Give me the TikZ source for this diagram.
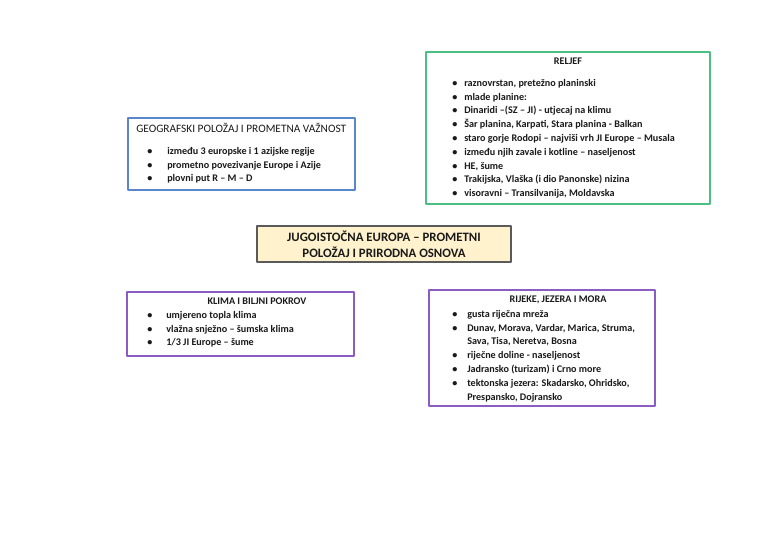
\documentclass[tikz,border=0pt]{standalone}
\usepackage{fontspec}
\setmainfont{Carlito}
\usepackage{xcolor}
\usetikzlibrary{positioning,calc}
\definecolor{reliefgreen}{HTML}{4CBF85}
\definecolor{geoblue}{HTML}{5A86CC}
\definecolor{climpurple}{HTML}{8B5CC4}
\definecolor{titlefill}{HTML}{FFF2CC}
\definecolor{titledraw}{HTML}{5A5A5A}
\definecolor{ink}{HTML}{1A1A1A}
\newcommand{\itm}[2][12]{\makebox[#1\pxu][l]{\textbullet}#2}
\newcommand{\cnt}[2][12]{\hspace*{#1\pxu}#2}
\newlength{\pxu}
\setlength{\pxu}{0.75pt}
\tikzset{
    every picture/.style={line cap=round,line join=round},
    mapbox/.style={draw,line width=0.9pt,fill=white,anchor=north west,
      inner sep=0pt,outer sep=0pt},
    boxtitle/.style={inner sep=0pt,anchor=base,text=ink,
      font=\fontsize{7.6}{10.3}\selectfont\bfseries},
    boxlist/.style={inner sep=0pt,anchor=north west,align=left,text=ink,
      font=\fontsize{7.6}{10.35}\selectfont\bfseries}
}
\begin{document}
\begin{tikzpicture}[x=0.75pt,y=-0.75pt]
  \useasboundingbox[fill=white] (0,0) rectangle (768,543);
  % relief
  \node[mapbox,draw=reliefgreen,minimum width=284*0.75pt,
        minimum height=152*0.75pt] (relief) at (426,52) {};
  \node[boxtitle] (reliefTitle) at (568,64) {RELJEF};
  \node[boxlist] (reliefList) at (452,79) {
    \itm{raznovrstan, pretežno planinski}\\
    \itm{mlade planine:}\\
    \itm{Dinaridi –(SZ – JI) - utjecaj na klimu}\\
    \itm{Šar planina, Karpati, Stara planina - Balkan}\\
    \itm{staro gorje Rodopi – najviši vrh JI Europe – Musala}\\
    \itm{između njih zavale i kotline – naseljenost}\\
    \itm{HE, šume}\\
    \itm{Trakijska, Vlaška (i dio Panonske) nizina}\\
    \itm{visoravni – Transilvanija, Moldavska}
  };
  % position
  \node[mapbox,draw=geoblue,minimum width=227*0.75pt,
        minimum height=72*0.75pt] (position) at (128,118) {};
  \node[boxtitle,anchor=base west,font=\fontsize{8.5}{10.3}\selectfont]
    (positionTitle) at (136,132) {GEOGRAFSKI POLOŽAJ I PROMETNA VAŽNOST};
  \node[boxlist] (positionList) at (147,147) {
    \itm[20]{između 3 europske i 1 azijske regije}\\
    \itm[20]{prometno povezivanje Europe i Azije}\\
    \itm[20]{plovni put R – M – D}
  };
  % main title
  \node[mapbox,draw=titledraw,fill=titlefill,line width=1pt,
        minimum width=254*0.75pt,minimum height=36*0.75pt] (main) at (257,226) {};
  \node[inner sep=0pt,align=center,text=ink,
        font=\fontsize{9.6}{12}\selectfont\bfseries] (mainTitle) at (main.center)
    {JUGOISTOČNA EUROPA – PROMETNI\\POLOŽAJ I PRIRODNA OSNOVA};
  % climate
  \node[mapbox,draw=climpurple,minimum width=227*0.75pt,
        minimum height=64*0.75pt] (climate) at (127,292) {};
  \node[boxtitle] (climateTitle) at (257,304) {KLIMA I BILJNI POKROV};
  \node[boxlist] (climateList) at (147,311) {
    \itm[19]{umjereno topla klima}\\
    \itm[19]{vlažna snježno – šumska klima}\\
    \itm[19]{1/3 JI Europe – šume}
  };
  % waters
  \node[mapbox,draw=climpurple,minimum width=226*0.75pt,
        minimum height=116*0.75pt] (waters) at (429,290) {};
  \node[boxtitle] (watersTitle) at (558,302) {RIJEKE, JEZERA I MORA};
  \node[boxlist] (watersList) at (452,310) {
    \itm[15]{gusta riječna mreža}\\
    \itm[15]{Dunav, Morava, Vardar, Marica, Struma,}\\
    \cnt[15]{Sava, Tisa, Neretva, Bosna}\\
    \itm[15]{riječne doline - naseljenost}\\
    \itm[15]{Jadransko (turizam) i Crno more}\\
    \itm[15]{tektonska jezera: Skadarsko, Ohridsko,}\\
    \cnt[15]{Prespansko, Dojransko}
  };
\end{tikzpicture}
\end{document}
